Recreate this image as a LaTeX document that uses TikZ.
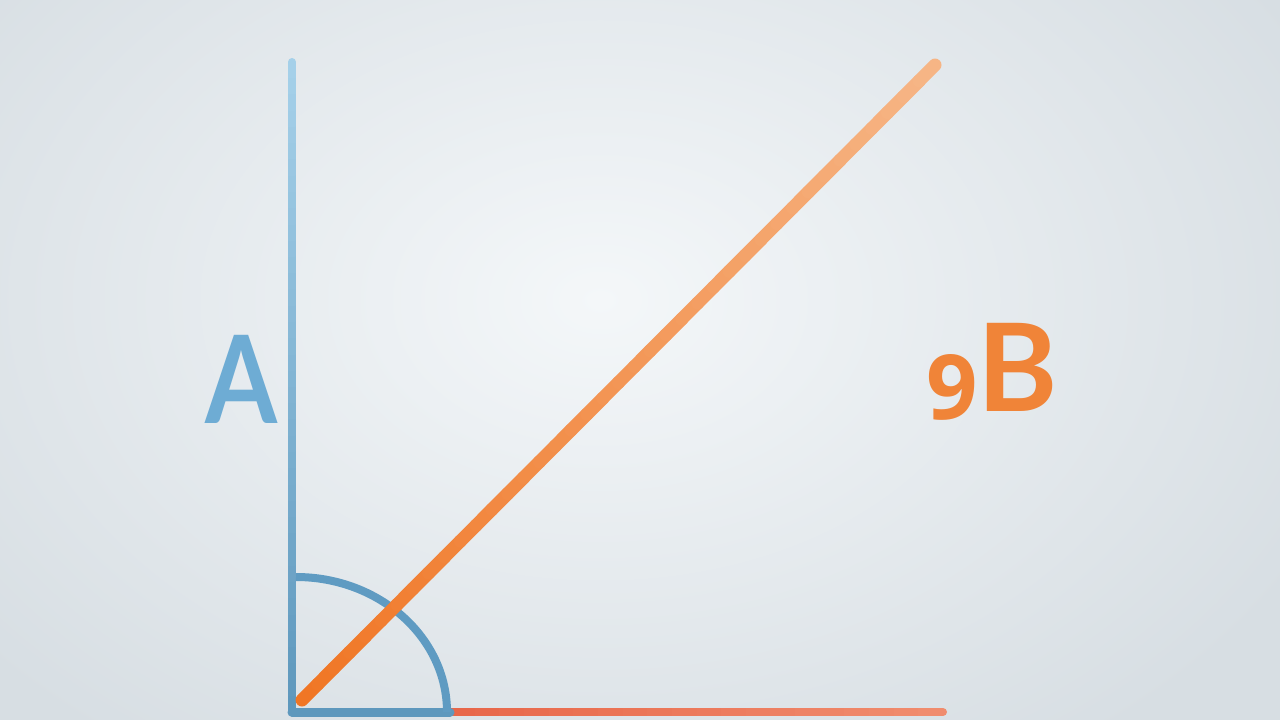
\documentclass[tikz,border=0pt]{standalone}
\usepackage{fontspec}
\usetikzlibrary{calc}
\newfontfamily\labfont{Lato}
\newfontfamily\ninefont{Open Sans}
\definecolor{bgin}{HTML}{F4F7F9}
\definecolor{bgout}{HTML}{D7DEE3}
\definecolor{blueTop}{HTML}{A5D0E9}
\definecolor{blueBot}{HTML}{5E98BD}
\definecolor{arcblue}{HTML}{5F9BC2}
\definecolor{orLow}{HTML}{F07625}
\definecolor{orHigh}{HTML}{F6B585}
\definecolor{redL}{HTML}{E8674A}
\definecolor{redR}{HTML}{F08C6E}
\definecolor{labA}{HTML}{6EACD4}
\definecolor{labB}{HTML}{F08438}
\tikzset{
  armline/.style={line width=8pt,line cap=round},
  diagline/.style={line width=13pt,line cap=round},
  anglearc/.style={draw=arcblue,line width=8pt},
  bigtext/.style={font=\labfont\bfseries\fontsize{122}{122}\selectfont,inner sep=0pt}
}
\begin{document}
\begin{tikzpicture}[x=1pt,y=-1pt]
\useasboundingbox (0,0) rectangle (1280,720);
\shade[inner color=bgin,outer color=bgout] (-200,-260) rectangle (1400,860);
% coordinates
\coordinate (O) at (292,712);
\coordinate (Vtop) at (292,62);
\coordinate (Hmid) at (450,712);
\coordinate (Hend) at (943,712);
\coordinate (D0) at (302,700);
\coordinate (D1) at (935,65);
% vertical arm with gradient
\foreach \i in {0,...,39}{
  \pgfmathsetmacro{\p}{100*\i/39}
  \draw[armline,line cap=butt,draw=blueBot!\p!blueTop]
    ($(Vtop)!\i/40!(O)$) -- ($(Vtop)!{(\i+1)/40}!(O)$);
}
\draw[armline,line cap=round,draw=blueTop] (Vtop) -- ($(Vtop)+(0,1)$);
% bottom arm
\foreach \i in {0,...,19}{
  \pgfmathsetmacro{\p}{100*\i/19}
  \draw[line width=8pt,line cap=butt,draw=redR!\p!redL]
    ($(Hmid)!\i/20!(Hend)$) -- ($(Hmid)!{(\i+1)/20}!(Hend)$);
}
\draw[line width=8pt,line cap=round,draw=redR] ($(Hend)+(-1,0)$) -- (Hend);
\draw[line width=9pt,line cap=round,draw=blueBot] (O) -- (Hmid);
% angle arc
\draw[anglearc] (296,712) ++(0:151) arc[start angle=0,end angle=90,x radius=151,y radius=-135];
% diagonal
\foreach \i in {0,...,39}{
  \pgfmathsetmacro{\p}{100*\i/39}
  \draw[diagline,draw=orHigh!\p!orLow]
    ($(D0)!\i/40!(D1)$) -- ($(D0)!{(\i+1)/40}!(D1)$);
}
% labels
\node[bigtext,text=labA] (A) at (242,379) {\scalebox{0.85}[1]{A}};
\node[bigtext,text=labB] (B) at (992,372) {\raisebox{-0.07em}{\ninefont\bfseries\fontsize{90}{90}\selectfont 9}B};
\end{tikzpicture}
\end{document}
